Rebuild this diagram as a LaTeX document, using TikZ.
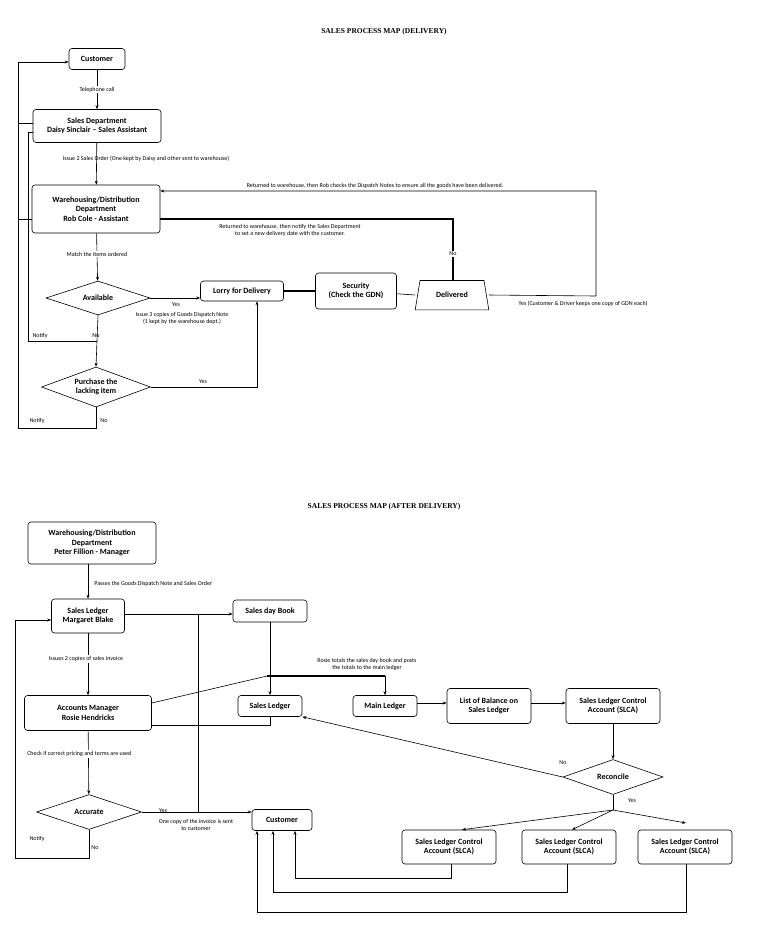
\documentclass[tikz,border=0pt]{standalone}
\usepackage{fontspec}
\setmainfont{Carlito}
\newfontfamily\ttl{Liberation Serif}
\usetikzlibrary{shapes.geometric,arrows.meta}
\begin{document}
\begin{tikzpicture}[x=1pt,y=-1pt,
 box/.style={draw,rounded corners=3pt,font=\bfseries\fontsize{8}{9.5}\selectfont,align=center,inner sep=0pt},
 dia/.style={draw,diamond,aspect=3,font=\bfseries\fontsize{8}{9.5}\selectfont,align=center,inner sep=0pt},
 lab/.style={font=\fontsize{6}{7}\selectfont,align=center,inner sep=1pt},
 ar/.style={-{Stealth[length=4pt,width=3pt]}},
 tk/.style={line width=1.3pt},
 title/.style={font=\ttl\bfseries\fontsize{7.5}{9}\selectfont}]
\useasboundingbox (0,0) rectangle (768,932);
\tikzset{every path/.append style={line width=0.6pt}}
% ---------- TOP ----------
\node[title] (t1) at (384,32) {SALES PROCESS MAP (DELIVERY)};
\node[box,minimum width=56,minimum height=21] (cust) at (97,59) {Customer};
\node[box,minimum width=128,minimum height=33] (sales) at (97,126) {Sales Department\\Daisy Sinclair -- Sales Assistant};
\node[box,minimum width=128,minimum height=48] (wh) at (96,209) {Warehousing/Distribution\\Department\\Rob Cole - Assistant};
\node[dia,minimum width=104,minimum height=34] (avail) at (98,298) {Available};
\node[box,minimum width=83,minimum height=20] (lorry) at (242,291) {Lorry for Delivery};
\node[box,minimum width=81,minimum height=36] (sec) at (356,291) {Security\\(Check the GDN)};
\node[minimum width=73,minimum height=29,inner sep=0pt,font=\bfseries\fontsize{8}{9.5}\selectfont] (deliv) at (452,295) {Delivered};
\draw (deliv.south west) -- (420,280.5) -- (484,280.5) -- (deliv.south east) -- cycle;
\node[dia,minimum width=109,minimum height=40] (purch) at (96,387) {Purchase the\\lacking item};
\draw[ar] (cust) -- node[lab,fill=white]{Telephone call} (sales);
\draw[ar] (sales) -- (wh);
\node[lab] (lb1) at (146,159) {Issue 2 Sales Order (One kept by Daisy and other sent to warehouse)};
\draw[ar] (wh) -- (avail);
\node[lab,fill=white] (lb2) at (97,254) {Match the items ordered};
\draw[ar] (avail.east) -- (lorry.west|-avail.east);
\node[lab] (lb3) at (176,305) {Yes};
\node[lab] (lb4) at (182,318) {Issue 3 copies of Goods Dispatch Note\\(1 kept by the warehouse dept.)};
\draw[ar] (avail.south) -- (purch.north);
\node[lab] (lb5) at (96,336) {No};
\draw (sales.west|-0,123) -- (18,123);
\draw (wh.west|-0,219) -- (18,219);
\draw[ar] (purch.south) -- (96,428) -- (18,428) -- (18,62) -- (cust.west|-0,62);
\node[lab] (lb6) at (37,421) {Notify};
\node[lab] (lb7) at (104,421) {No};
\draw (sales.west|-0,132) -- (28,132) -- (28,341) -- (97,341);
\node[lab] (lb8) at (40,336) {Notify};
\draw[ar] (purch.east) -- (257,387) -- (lorry.south-|257,0);
\node[lab] (lb9) at (203,382) {Yes};
\draw[tk] (lorry) -- (sec);
\draw (sec) -- (deliv.west);
\draw[tk] (453,280.5) -- (453,219) -- (wh.east|-0,219);
\node[lab,fill=white] (lb10) at (453,254) {No};
\node[lab] (lb11) at (290,230) {Returned to warehouse, then notify the Sales Department\\to set a new delivery date with the customer.};
\draw[ar] (deliv.east) -- (596,296) -- (596,191) -- (wh.east|-0,191);
\node[lab] (lb12) at (375,186) {Returned to warehouse, then Rob checks the Dispatch Notes to ensure all the goods have been delivered.};
\node[lab] (lb13) at (583,304) {Yes (Customer \& Driver keeps one copy of GDN each)};
% ---------- BOTTOM ----------
\node[title] (t2) at (384,507) {SALES PROCESS MAP (AFTER DELIVERY)};
\node[box,minimum width=128,minimum height=42] (pf) at (92,543) {Warehousing/Distribution\\Department\\Peter Fillion - Manager};
\node[box,minimum width=73,minimum height=34] (sl) at (88,616) {Sales Ledger\\Margaret Blake};
\node[box,minimum width=74,minimum height=22] (sdb) at (270,611) {Sales day Book};
\node[box,minimum width=127,minimum height=35] (am) at (88,713) {Accounts Manager\\Rosie Hendricks};
\node[box,minimum width=64,minimum height=21] (sl2) at (270,706) {Sales Ledger};
\node[box,minimum width=64,minimum height=21] (ml) at (385,706) {Main Ledger};
\node[box,minimum width=84,minimum height=35] (lb) at (489,706) {List of Balance on\\Sales Ledger};
\node[box,minimum width=94,minimum height=35] (slca) at (613,706) {Sales Ledger Control\\Account (SLCA)};
\node[dia,minimum width=100,minimum height=35] (rec) at (613,777) {Reconcile};
\node[dia,minimum width=105,minimum height=35] (acc) at (89,812) {Accurate};
\node[box,minimum width=60,minimum height=21] (cu2) at (282,820) {Customer};
\node[box,minimum width=94,minimum height=34] (s1) at (449,847) {Sales Ledger Control\\Account (SLCA)};
\node[box,minimum width=94,minimum height=34] (s2) at (569,847) {Sales Ledger Control\\Account (SLCA)};
\node[box,minimum width=94,minimum height=34] (s3) at (685,847) {Sales Ledger Control\\Account (SLCA)};
\draw[ar] (pf.south-|88,0) -- (sl);
\node[lab,anchor=west] (b1) at (93,584) {Passes the Goods Dispatch Note and Sales Order};
\draw[ar] (sl.east|-0,614) -- (sdb.west|-0,614);
\draw (198,614) -- (198,812);
\draw[ar] (sl) -- (am);
\node[lab,fill=white] (b2) at (86,659) {Issues 2 copies of sales invoice};
\draw[ar] (sdb) -- (sl2);
\node[lab] (b3) at (367,664) {Rosie totals the sales day book and posts\\the totals to the main ledger};
\draw[tk] (267,676) -- (385,676);
\draw[ar] (385,676) -- (ml);
\draw (am.east|-0,703) -- (267,676);
\draw (am.east|-0,725) -- (270,725) -- (sl2.south);
\draw[ar] (am) -- (acc);
\node[lab,fill=white,anchor=west] (b4) at (26,754) {Check if correct pricing and terms are used};
\draw[ar] (acc.east) -- (cu2.west|-acc.east);
\node[lab] (b5) at (163,811) {Yes};
\node[lab] (b6) at (196,825) {One copy of the invoice is sent\\to customer};
\draw[ar] (acc.south) -- (89,858) -- (15,858) -- (15,620) -- (sl.west|-0,620);
\node[lab] (b7) at (37,839) {Notify};
\node[lab] (b8) at (95,848) {No};
\draw[ar] (ml.east|-0,703) -- (lb.west|-0,703);
\draw[ar] (lb.east|-0,703) -- (slca.west|-0,703);
\draw[ar] (slca) -- (rec);
\draw[ar] (rec.west) -- (sl2.south east);
\node[lab] (b9) at (563,763) {No};
\coordinate (fork) at (613,810);
\draw (rec.south) -- (fork);
\node[lab] (b10) at (632,801) {Yes};
\draw[ar] (fork) -- (s1.north-|462,0);
\draw[ar] (fork) -- (s2.north-|572,0);
\draw[ar] (fork) -- (686,823);
\draw[ar] (s1.south-|451,0) -- (451,878) -- (295,878) -- (cu2.south-|295,0);
\draw[ar,line width=1pt] (s2.south-|567,0) -- (567,892) -- (273,892) -- (cu2.south-|273,0);
\draw[ar,line width=1pt] (s3.south-|686,0) -- (686,912) -- (257,912) -- (cu2.south-|257,0);
\end{tikzpicture}
\end{document}
